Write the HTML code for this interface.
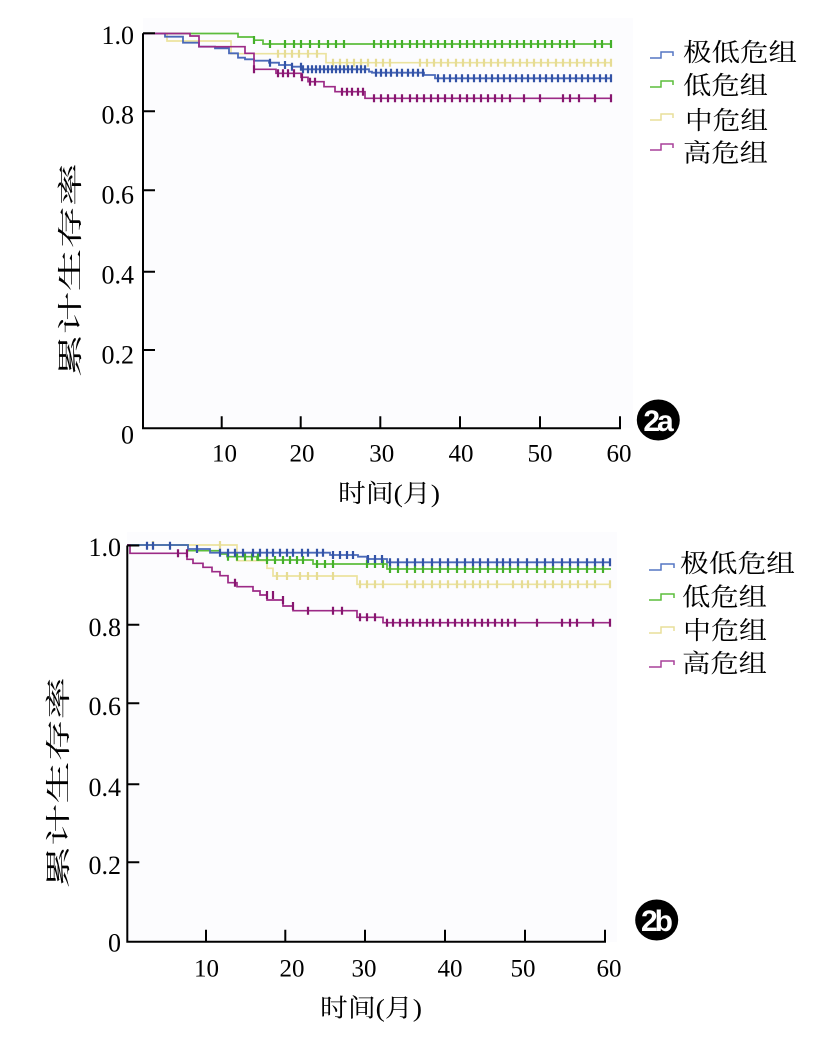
<!DOCTYPE html>
<html>
<head>
<meta charset="utf-8">
<style>
html,body{margin:0;padding:0;background:#ffffff;}
svg{display:block;}
.num{font-family:"Liberation Serif","Noto Serif CJK SC",serif;fill:#000;}
.cjk{font-family:"Liberation Serif","Noto Serif CJK SC",serif;fill:#000;}
.badge{font-family:"Liberation Sans",sans-serif;font-weight:bold;fill:#fff;}
</style>
</head>
<body>
<svg width="815" height="1041" viewBox="0 0 815 1041" xmlns="http://www.w3.org/2000/svg">
<rect x="0" y="0" width="815" height="1041" fill="#ffffff"/>
<rect x="143" y="18" width="490" height="410" fill="#fcfcfe"/>
<rect x="127" y="532" width="490" height="410" fill="#fcfcfe"/>

<!-- ============ CHART A ============ -->
<g fill="none" stroke-linejoin="miter">
  <!-- yellow -->
  <path d="M143 33.5 H167 V41 H231 V53.7 H326 V62.7 H612" stroke="#ebe39f" stroke-width="1.7"/>
  <path d="M278 49.7v8M285 49.7v8M292 49.7v8M299 49.7v8M308 49.7v8M317 49.7v8M333 58.7v8M340 58.7v8M347 58.7v8M354 58.7v8M361 58.7v8M368 58.7v8M376 58.7v8M383 58.7v8M390 58.7v8M420 58.7v8M427 58.7v8M434 58.7v8M441 58.7v8M448 58.7v8M456 58.7v8M463 58.7v8M470 58.7v8M477 58.7v8M484 58.7v8M491 58.7v8M498 58.7v8M505 58.7v8M513 58.7v8M520 58.7v8M527 58.7v8M534 58.7v8M541 58.7v8M548 58.7v8M556 58.7v8M563 58.7v8M570 58.7v8M577 58.7v8M584 58.7v8M591 58.7v8M598 58.7v8M605 58.7v8M611 58.7v8" stroke="#e6dc94" stroke-width="2.2"/>
  <!-- green -->
  <path d="M143 33.5 H238 V37 H254 V40.2 H263 V44 H612" stroke="#5cbd3c" stroke-width="1.7"/>
  <path d="M254 36v8M270 40v8M285 40v8M294 40v8M301 40v8M310 40v8M319 40v8M328 40v8M336 40v8M344 40v8M374 40v8M381 40v8M388 40v8M395 40v8M402 40v8M410 40v8M417 40v8M424 40v8M431 40v8M438 40v8M445 40v8M452 40v8M460 40v8M467 40v8M474 40v8M481 40v8M488 40v8M495 40v8M502 40v8M510 40v8M517 40v8M524 40v8M531 40v8M538 40v8M545 40v8M552 40v8M560 40v8M567 40v8M574 40v8M595 40v8M602 40v8M611 40v8" stroke="#44b02a" stroke-width="2.2"/>
  <!-- blue -->
  <path d="M143 33.5 H165 V36.7 H183 V42.7 H199 V46.7 H215 V48.3 H229 V53.3 H238 V57.7 H245 V59.3 H254 V60.7 H269 V62.7 H279 V65 H292 V66.7 H302.5 V69.3 H369 V71.7 H372 V72.7 H424 V75 H435 V78.3 H612" stroke="#4a69b9" stroke-width="1.8"/>
  <path d="M270 58.7v8M285 61v8M292 62.7v8M301 62.7v8M303 65.3v8M308 65.3v8M312 65.3v8M316 65.3v8M320 65.3v8M324 65.3v8M328 65.3v8M332 65.3v8M336 65.3v8M340 65.3v8M344 65.3v8M348 65.3v8M352 65.3v8M357 65.3v8M361 65.3v8M365 65.3v8M376 68.7v8M381 68.7v8M386 68.7v8M391 68.7v8M397 68.7v8M402 68.7v8M408 68.7v8M413 68.7v8M418 68.7v8M423 68.7v8M438 74.3v8M444 74.3v8M450 74.3v8M456 74.3v8M462 74.3v8M468 74.3v8M474 74.3v8M480 74.3v8M486 74.3v8M492 74.3v8M498 74.3v8M504 74.3v8M510 74.3v8M516 74.3v8M522 74.3v8M528 74.3v8M534 74.3v8M540 74.3v8M546 74.3v8M552 74.3v8M558 74.3v8M564 74.3v8M570 74.3v8M576 74.3v8M582 74.3v8M588 74.3v8M594 74.3v8M600 74.3v8M606 74.3v8M611 74.3v8" stroke="#3353a6" stroke-width="2.2"/>
  <!-- purple -->
  <path d="M143 33.5 H190 V36 H199 V46.7 H245 V53.3 H254 V69.3 H276 V73.3 H301 V77.3 H308 V81.7 H324 V86.7 H335 V91.7 H365 V98.3 H612" stroke="#9c2a86" stroke-width="1.7"/>
  <path d="M254 65.3v8M278 69.3v8M283 69.3v8M288 69.3v8M294 69.3v8M302 73.3v8M310 77.7v8M315 77.7v8M342 87.7v8M347 87.7v8M352 87.7v8M358 87.7v8M363 87.7v8M374 94.3v8M381 94.3v8M388 94.3v8M395 94.3v8M402 94.3v8M410 94.3v8M417 94.3v8M424 94.3v8M431 94.3v8M438 94.3v8M445 94.3v8M452 94.3v8M460 94.3v8M467 94.3v8M474 94.3v8M481 94.3v8M488 94.3v8M495 94.3v8M502 94.3v8M510 94.3v8M524 94.3v8M540 94.3v8M563 94.3v8M570 94.3v8M579 94.3v8M595 94.3v8M611 94.3v8" stroke="#87166f" stroke-width="2.2"/>
</g>

<!-- axes A -->
<g stroke="#000" stroke-width="2" fill="none">
  <path d="M143 33.3 V428.3 H620 V416.3"/>
  <path d="M143 33.3 H155 M143 111.3 H155 M143 190.3 H155 M143 271.7 H155 M143 350 H155"/>
  <path d="M221.7 428.3 V416.3 M300.7 428.3 V416.3 M380.3 428.3 V416.3 M460 428.3 V416.3 M540 428.3 V416.3"/>
</g>
<g class="num" font-size="26" text-anchor="end">
  <text x="134" y="44">1.0</text>
  <text x="134" y="123.5">0.8</text>
  <text x="134" y="203.5">0.6</text>
  <text x="134" y="283.5">0.4</text>
  <text x="134" y="363.5">0.2</text>
  <text x="134" y="443.5">0</text>
</g>
<g class="num" font-size="25" text-anchor="middle">
  <text x="224.5" y="461.7">10</text>
  <text x="302" y="461.7">20</text>
  <text x="381.7" y="461.7">30</text>
  <text x="461" y="461.7">40</text>
  <text x="540" y="461.7">50</text>
  <text x="619" y="461.7">60</text>
</g>
<text class="cjk" x="338" y="502" font-size="25" textLength="102" lengthAdjust="spacingAndGlyphs">时间(月)</text>
<text class="cjk" transform="translate(79,270) rotate(-90)" font-size="25" text-anchor="middle" textLength="214" lengthAdjust="spacingAndGlyphs">累计生存率</text>

<!-- legend A -->
<g fill="none" stroke-width="1.5">
  <path d="M650 58 H661 V52 H673 V56" stroke="#5577c4"/>
  <path d="M650 87 H661 V81 H673 V85" stroke="#5cbd3c"/>
  <path d="M650 120 H661 V114 H673 V118" stroke="#e8df9a"/>
  <path d="M650 150 H661 V144 H673 V148" stroke="#a8409a"/>
</g>
<g class="cjk" font-size="25">
  <text x="683" y="61" textLength="114" lengthAdjust="spacingAndGlyphs">极低危组</text>
  <text x="683" y="94" textLength="85" lengthAdjust="spacingAndGlyphs">低危组</text>
  <text x="685" y="129" textLength="83" lengthAdjust="spacingAndGlyphs">中危组</text>
  <text x="683" y="161.5" textLength="85" lengthAdjust="spacingAndGlyphs">高危组</text>
</g>
<ellipse cx="658.3" cy="420" rx="21.5" ry="20.5" fill="#000"/>
<text class="badge" x="657" y="431" font-size="30" text-anchor="middle" letter-spacing="-3">2a</text>

<!-- ============ CHART B ============ -->
<g fill="none">
  <!-- yellow -->
  <path d="M127 545 H237 V560.7 H267 V568.3 H273 V576 H357 V584.3 H611" stroke="#ebe39f" stroke-width="1.7"/>
  <path d="M153 541v8M220 541v8M277 572v8M287 572v8M300 572v8M308 572v8M317 572v8M333 572v8M360 580.3v8M367 580.3v8M375 580.3v8M383 580.3v8M407 580.3v8M415 580.3v8M423 580.3v8M432 580.3v8M440 580.3v8M448 580.3v8M457 580.3v8M465 580.3v8M473 580.3v8M480 580.3v8M488 580.3v8M497 580.3v8M513 580.3v8M522 580.3v8M528 580.3v8M537 580.3v8M545 580.3v8M553 580.3v8M562 580.3v8M570 580.3v8M578 580.3v8M587 580.3v8M595 580.3v8M610 580.3v8" stroke="#e6dc94" stroke-width="2.2"/>
  <!-- green -->
  <path d="M127 545 H188 V550.7 H220 V554 H227 V556.7 H257 V560 H313 V564 H387 V569 H611" stroke="#5cbd3c" stroke-width="1.7"/>
  <path d="M228 552.7v8M237 552.7v8M245 552.7v8M252 552.7v8M258 552.7v8M267 556v8M275 556v8M283 556v8M290 556v8M297 556v8M303 556v8M317 560v8M325 560v8M333 560v8M367 560v8M375 560v8M383 560v8M390 565v8M398 565v8M407 565v8M415 565v8M423 565v8M432 565v8M440 565v8M448 565v8M457 565v8M465 565v8M473 565v8M480 565v8M488 565v8M497 565v8M503 565v8M510 565v8M518 565v8M527 565v8M537 565v8M545 565v8M553 565v8M562 565v8M570 565v8M578 565v8M587 565v8M595 565v8M603 565v8" stroke="#44b02a" stroke-width="2.2"/>
  <!-- blue -->
  <path d="M127 545 H188 V549 H210 V552.7 H330 V555 H358 V556.7 H367 V559 H387 V562.3 H611" stroke="#4a69b9" stroke-width="1.8"/>
  <path d="M147 541.7v8M153 541.7v8M170 541.7v8M197 545v8M220 548.7v8M228 548.7v8M235 548.7v8M243 548.7v8M253 548.7v8M260 548.7v8M267 548.7v8M273 548.7v8M280 548.7v8M287 548.7v8M293 548.7v8M302 548.7v8M308 548.7v8M317 548.7v8M323 548.7v8M333 551v8M340 551v8M347 551v8M353 551v8M368 555v8M375 555v8M382 555v8M390 558.3v8M398 558.3v8M407 558.3v8M415 558.3v8M423 558.3v8M432 558.3v8M440 558.3v8M448 558.3v8M457 558.3v8M465 558.3v8M473 558.3v8M480 558.3v8M488 558.3v8M497 558.3v8M503 558.3v8M510 558.3v8M518 558.3v8M527 558.3v8M537 558.3v8M545 558.3v8M553 558.3v8M562 558.3v8M570 558.3v8M578 558.3v8M587 558.3v8M595 558.3v8M603 558.3v8M610 558.3v8" stroke="#3353a6" stroke-width="2.2"/>
  <!-- purple -->
  <path d="M127 545 H130 V553.3 H187 V559.3 H193 V563.3 H203 V567.3 H212 V571.7 H220 V575.7 H228 V582.7 H237 V586.7 H253 V591 H260 V595 H267 V600 H283 V606 H293 V610.7 H357 V617.3 H383 V622.7 H611" stroke="#9c2a86" stroke-width="1.7"/>
  <path d="M178 549.3v8M187 549.3v8M235 578.7v8M267 591v8M273 591v8M283 596v8M293 602v8M308 606.7v8M333 606.7v8M342 606.7v8M360 613.3v8M367 613.3v8M375 613.3v8M387 618.7v8M393 618.7v8M400 618.7v8M407 618.7v8M413 618.7v8M420 618.7v8M427 618.7v8M433 618.7v8M440 618.7v8M448 618.7v8M455 618.7v8M462 618.7v8M468 618.7v8M475 618.7v8M482 618.7v8M488 618.7v8M495 618.7v8M502 618.7v8M508 618.7v8M515 618.7v8M537 618.7v8M562 618.7v8M570 618.7v8M577 618.7v8M593 618.7v8M610 618.7v8" stroke="#87166f" stroke-width="2.2"/>
</g>

<!-- axes B -->
<g stroke="#000" stroke-width="2" fill="none">
  <path d="M127.3 545.5 V941.7 H605 V929.7"/>
  <path d="M127.3 545.5 H139.3 M127.3 624.7 H139.3 M127.3 703.3 H139.3 M127.3 784.3 H139.3 M127.3 862.3 H139.3"/>
  <path d="M206 941.7 V929.7 M285.3 941.7 V929.7 M365 941.7 V929.7 M445 941.7 V929.7 M525 941.7 V929.7"/>
</g>
<g class="num" font-size="26" text-anchor="end">
  <text x="121" y="556">1.0</text>
  <text x="121" y="636">0.8</text>
  <text x="121" y="715">0.6</text>
  <text x="121" y="796">0.4</text>
  <text x="121" y="874">0.2</text>
  <text x="121" y="951.5">0</text>
</g>
<g class="num" font-size="25" text-anchor="middle">
  <text x="206.5" y="976.7">10</text>
  <text x="292" y="976.7">20</text>
  <text x="364" y="976.7">30</text>
  <text x="450" y="976.7">40</text>
  <text x="523" y="976.7">50</text>
  <text x="609" y="976.7">60</text>
</g>
<text class="cjk" x="320" y="1016.5" font-size="25" textLength="102" lengthAdjust="spacingAndGlyphs">时间(月)</text>
<text class="cjk" transform="translate(67,782.5) rotate(-90)" font-size="25" text-anchor="middle" textLength="211" lengthAdjust="spacingAndGlyphs">累计生存率</text>

<!-- legend B -->
<g fill="none" stroke-width="1.5">
  <path d="M649 570 H661 V564 H674 V568" stroke="#5577c4"/>
  <path d="M649 600 H661 V594 H674 V598" stroke="#5cbd3c"/>
  <path d="M649 633 H661 V627 H674 V631" stroke="#e8df9a"/>
  <path d="M649 667 H661 V661 H674 V665" stroke="#a8409a"/>
</g>
<g class="cjk" font-size="25">
  <text x="680" y="572" textLength="115" lengthAdjust="spacingAndGlyphs">极低危组</text>
  <text x="682" y="605.7" textLength="85" lengthAdjust="spacingAndGlyphs">低危组</text>
  <text x="683" y="639" textLength="84" lengthAdjust="spacingAndGlyphs">中危组</text>
  <text x="682" y="672" textLength="85" lengthAdjust="spacingAndGlyphs">高危组</text>
</g>
<ellipse cx="656.7" cy="920" rx="21.5" ry="20.5" fill="#000"/>
<text class="badge" x="655.5" y="931" font-size="30" text-anchor="middle" letter-spacing="-3">2b</text>
</svg>
</body>
</html>
